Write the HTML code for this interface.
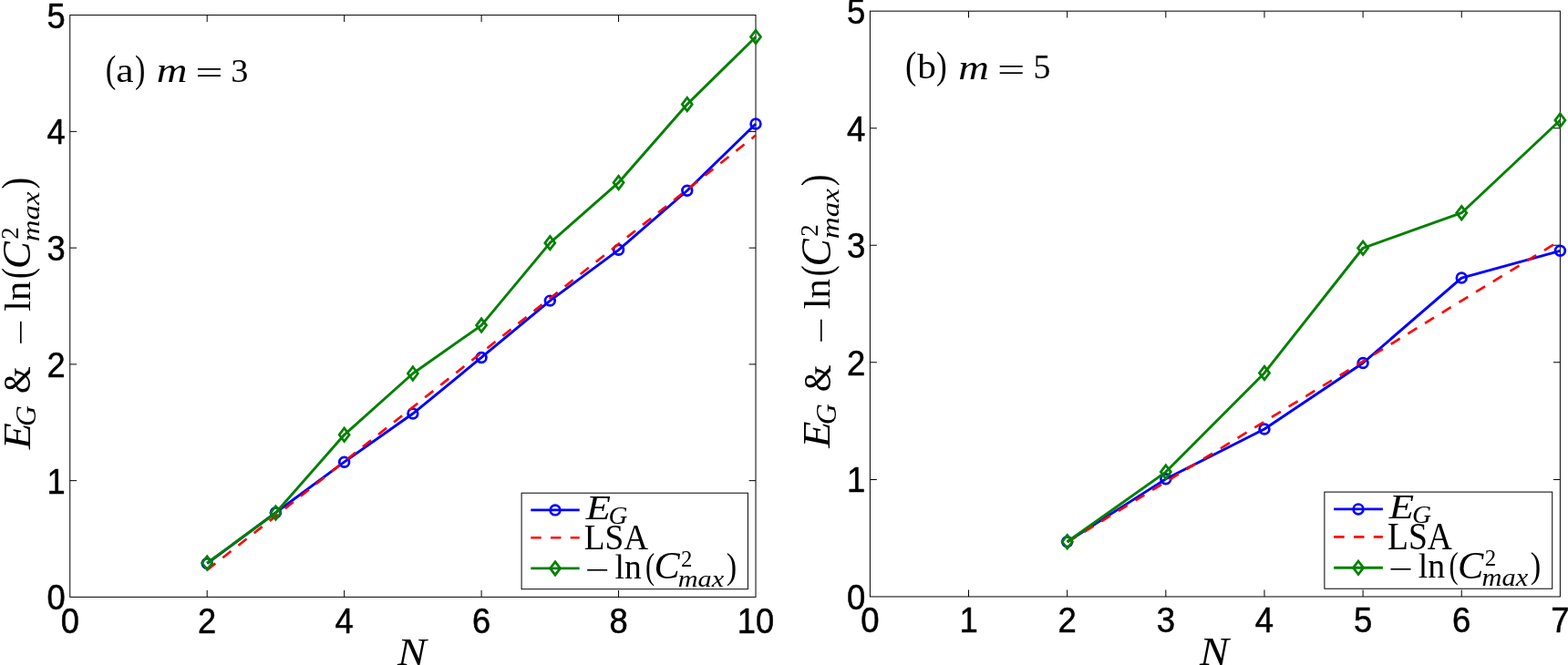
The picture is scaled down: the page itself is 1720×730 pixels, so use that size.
<!DOCTYPE html>
<html lang="en"><head><meta charset="utf-8"><title>E_G and -ln(C^2_max) versus N</title>
<style>html,body{margin:0;padding:0;background:#fff;}body{width:1720px;height:730px;overflow:hidden;}svg{display:block;}</style>
</head><body>
<svg width="1720" height="730" viewBox="0 0 1720 730">
<rect width="1720" height="730" fill="#fff"/>
<g transform="translate(76.75,655.4) scale(1)">
<rect x="0" y="-638.8" width="752.25" height="638.8" fill="none" stroke="#000" stroke-width="1"/>
<path d="M150.45 0V-7.4M150.45 -638.8V-631.4M300.9 0V-7.4M300.9 -638.8V-631.4M451.35 0V-7.4M451.35 -638.8V-631.4M601.8 0V-7.4M601.8 -638.8V-631.4M0 -127.76H7.4M752.25 -127.76H744.85M0 -255.52H7.4M752.25 -255.52H744.85M0 -383.28H7.4M752.25 -383.28H744.85M0 -511.04H7.4M752.25 -511.04H744.85" stroke="#000" stroke-width="1" fill="none"/>
<g font-family="'Liberation Sans', Arial, Helvetica, sans-serif" font-size="37.4" fill="#000" stroke="#000" stroke-width="0.5" stroke-linejoin="round">
<g text-anchor="end">
<text transform="translate(-5.1,13.9) scale(.97,1.02)">0</text>
<text transform="translate(-5.1,-113.86) scale(.97,1.02)">1</text>
<text transform="translate(-5.1,-241.62) scale(.97,1.02)">2</text>
<text transform="translate(-5.1,-369.38) scale(.97,1.02)">3</text>
<text transform="translate(-5.1,-497.14) scale(.97,1.02)">4</text>
<text transform="translate(-5.1,-624.9) scale(.97,1.02)">5</text>
</g><g text-anchor="middle">
<text transform="translate(0,39.2) scale(.97,1.02)">0</text>
<text transform="translate(150.45,39.2) scale(.97,1.02)">2</text>
<text transform="translate(300.9,39.2) scale(.97,1.02)">4</text>
<text transform="translate(451.35,39.2) scale(.97,1.02)">6</text>
<text transform="translate(601.8,39.2) scale(.97,1.02)">8</text>
<text transform="translate(752.25,39.2) scale(.97,1.02)">10</text>
</g></g>
<g fill="none" stroke-width="2.9" stroke-linejoin="round">
<g stroke="#0000ff"><polyline points="150.45,-36.79 225.67,-92.63 300.9,-148.2 376.12,-201.35 451.35,-262.93 526.57,-325.28 601.8,-381.11 677.02,-446.14 752.25,-519.47"/>
<circle cx="150.45" cy="-36.79" r="5.35" stroke-width="2.7"/>
<circle cx="225.67" cy="-92.63" r="5.35" stroke-width="2.7"/>
<circle cx="300.9" cy="-148.2" r="5.35" stroke-width="2.7"/>
<circle cx="376.12" cy="-201.35" r="5.35" stroke-width="2.7"/>
<circle cx="451.35" cy="-262.93" r="5.35" stroke-width="2.7"/>
<circle cx="526.57" cy="-325.28" r="5.35" stroke-width="2.7"/>
<circle cx="601.8" cy="-381.11" r="5.35" stroke-width="2.7"/>
<circle cx="677.02" cy="-446.14" r="5.35" stroke-width="2.7"/>
<circle cx="752.25" cy="-519.47" r="5.35" stroke-width="2.7"/>
</g>
<polyline points="150.45,-29.77 225.67,-88.79 300.9,-148.84 376.12,-208.5 451.35,-268.17 526.57,-327.96 601.8,-387.62 677.02,-447.16 752.25,-506.82" stroke="#ff0000" stroke-width="2.6" stroke-dasharray="11.6 10.175"/>
<g stroke="#008000" stroke-linejoin="miter"><polyline points="150.45,-37.43 225.67,-92.37 300.9,-178.1 376.12,-245.43 451.35,-298.32 526.57,-388.77 601.8,-454.95 677.02,-540.94 752.25,-614.91" stroke-linejoin="round"/>
<path transform="translate(150.45,-37.43)" d="M0 -7.25L5.5 0L0 7.25L-5.5 0Z" stroke-width="2.7"/>
<path transform="translate(225.67,-92.37)" d="M0 -7.25L5.5 0L0 7.25L-5.5 0Z" stroke-width="2.7"/>
<path transform="translate(300.9,-178.1)" d="M0 -7.25L5.5 0L0 7.25L-5.5 0Z" stroke-width="2.7"/>
<path transform="translate(376.12,-245.43)" d="M0 -7.25L5.5 0L0 7.25L-5.5 0Z" stroke-width="2.7"/>
<path transform="translate(451.35,-298.32)" d="M0 -7.25L5.5 0L0 7.25L-5.5 0Z" stroke-width="2.7"/>
<path transform="translate(526.57,-388.77)" d="M0 -7.25L5.5 0L0 7.25L-5.5 0Z" stroke-width="2.7"/>
<path transform="translate(601.8,-454.95)" d="M0 -7.25L5.5 0L0 7.25L-5.5 0Z" stroke-width="2.7"/>
<path transform="translate(677.02,-540.94)" d="M0 -7.25L5.5 0L0 7.25L-5.5 0Z" stroke-width="2.7"/>
<path transform="translate(752.25,-614.91)" d="M0 -7.25L5.5 0L0 7.25L-5.5 0Z" stroke-width="2.7"/>
</g></g>
<rect x="495.35" y="-114.2" width="248.3" height="105.5" fill="#fff" stroke="#000" stroke-width="1"/>
<g fill="none" stroke-width="2.9">
<g stroke="#0000ff"><path d="M505.55 -95.5H558.95"/><circle cx="532.25" cy="-95.5" r="5.35" stroke-width="2.7"/></g>
<path d="M505.55 -65.2H558.95" stroke="#ff0000" stroke-width="2.6" stroke-dasharray="11.4 10.3"/>
<g stroke="#008000"><path d="M505.55 -31.5H558.95"/><path transform="translate(532.25,-31.5)" d="M0 -7.25L5.5 0L0 7.25L-5.5 0Z" stroke-width="2.7"/></g>
</g>
<g font-family="'Liberation Serif', 'Times New Roman', serif" fill="#000">
<g><text transform="translate(565.89,-85.7) scale(1.17,1)" font-size="38.02" font-style="italic">E</text><text transform="translate(590.76,-80.37) scale(1.079,1)" font-size="26.87" font-style="italic">G</text></g>
<g><text transform="translate(564.03,-52.01) scale(0.911,1)" font-size="40.9">LSA</text></g>
<g><text transform="translate(564.68,-18.73) scale(1.392,1)" font-size="34">−</text> <text transform="translate(597.7,-20.9) scale(1.013,1)" font-size="37.1">ln</text><text transform="translate(631.17,-20.54) scale(0.752,1)" font-size="40.67">(</text><text transform="translate(640.63,-20.21) scale(1.018,1)" font-size="41.49" font-style="italic">C</text><text transform="translate(670.14,-33.9) scale(0.972,1)" font-size="25.45">2</text><text transform="translate(666.99,-11.66) scale(1.153,1)" font-size="26.25" font-style="italic">max</text><text transform="translate(719.92,-20.54) scale(0.842,1)" font-size="40.67">)</text></g>
<g><text transform="translate(38.88,-565.16) scale(0.847,1)" font-size="41.22">(</text><text transform="translate(50.53,-565.28) scale(1.149,1)" font-size="37.89">a</text><text transform="translate(71.22,-565.16) scale(0.83,1)" font-size="41.22">)</text> <text transform="translate(95.02,-564.91) scale(1.247,1)" font-size="37.42" font-style="italic">m</text> <text transform="translate(137.46,-562.94) scale(1.477,1)" font-size="36.4">=</text> <text transform="translate(176.54,-565.16) scale(1.051,1)" font-size="36.42">3</text></g>
<g><text transform="translate(359.29,74.8) scale(1.104,1)" font-size="43.08" font-style="italic">N</text></g>
<g transform="rotate(-90)"><text transform="translate(162.27,-43.85) scale(1.134,1)" font-size="41.83" font-style="italic">E</text><text transform="translate(187.45,-37.37) scale(1.004,1)" font-size="31.64" font-style="italic">G</text> <text transform="translate(223.28,-43.58) scale(0.892,1)" font-size="42.67">&amp;</text> <text transform="translate(275.62,-42.48) scale(1.518,1)" font-size="34">−</text> <text transform="translate(313.65,-43.85) scale(1.06,1)" font-size="40.14">ln</text><text transform="translate(349.49,-43.24) scale(0.781,1)" font-size="45.67">(</text><text transform="translate(360.22,-43.5) scale(0.992,1)" font-size="45.37" font-style="italic">C</text><text transform="translate(392.7,-57.05) scale(0.997,1)" font-size="26.82">2</text><text transform="translate(390.25,-33.91) scale(1.244,1)" font-size="26.46" font-style="italic">max</text><text transform="translate(447.87,-43.24) scale(0.825,1)" font-size="45.67">)</text></g>
</g>
</g>
<g transform="translate(954.4,655.0) scale(1.0063)">
<rect x="0" y="-638.8" width="752.25" height="638.8" fill="none" stroke="#000" stroke-width="1"/>
<path d="M107.46 0V-7.4M107.46 -638.8V-631.4M214.93 0V-7.4M214.93 -638.8V-631.4M322.39 0V-7.4M322.39 -638.8V-631.4M429.86 0V-7.4M429.86 -638.8V-631.4M537.32 0V-7.4M537.32 -638.8V-631.4M644.79 0V-7.4M644.79 -638.8V-631.4M0 -127.76H7.4M752.25 -127.76H744.85M0 -255.52H7.4M752.25 -255.52H744.85M0 -383.28H7.4M752.25 -383.28H744.85M0 -511.04H7.4M752.25 -511.04H744.85" stroke="#000" stroke-width="1" fill="none"/>
<g font-family="'Liberation Sans', Arial, Helvetica, sans-serif" font-size="37.4" fill="#000" stroke="#000" stroke-width="0.5" stroke-linejoin="round">
<g text-anchor="end">
<text transform="translate(-5.1,13.9) scale(.97,1.02)">0</text>
<text transform="translate(-5.1,-113.86) scale(.97,1.02)">1</text>
<text transform="translate(-5.1,-241.62) scale(.97,1.02)">2</text>
<text transform="translate(-5.1,-369.38) scale(.97,1.02)">3</text>
<text transform="translate(-5.1,-497.14) scale(.97,1.02)">4</text>
<text transform="translate(-5.1,-624.9) scale(.97,1.02)">5</text>
</g><g text-anchor="middle">
<text transform="translate(0,39.2) scale(.97,1.02)">0</text>
<text transform="translate(107.46,39.2) scale(.97,1.02)">1</text>
<text transform="translate(214.93,39.2) scale(.97,1.02)">2</text>
<text transform="translate(322.39,39.2) scale(.97,1.02)">3</text>
<text transform="translate(429.86,39.2) scale(.97,1.02)">4</text>
<text transform="translate(537.32,39.2) scale(.97,1.02)">5</text>
<text transform="translate(644.79,39.2) scale(.97,1.02)">6</text>
<text transform="translate(752.25,39.2) scale(.97,1.02)">7</text>
</g></g>
<g fill="none" stroke-width="2.9" stroke-linejoin="round">
<g stroke="#0000ff"><polyline points="214.93,-59.92 322.39,-128.4 429.86,-182.82 537.32,-254.88 644.79,-347.76 752.25,-377.28"/>
<circle cx="214.93" cy="-59.92" r="5.35" stroke-width="2.7"/>
<circle cx="322.39" cy="-128.4" r="5.35" stroke-width="2.7"/>
<circle cx="429.86" cy="-182.82" r="5.35" stroke-width="2.7"/>
<circle cx="537.32" cy="-254.88" r="5.35" stroke-width="2.7"/>
<circle cx="644.79" cy="-347.76" r="5.35" stroke-width="2.7"/>
<circle cx="752.25" cy="-377.28" r="5.35" stroke-width="2.7"/>
</g>
<polyline points="214.93,-59.41 322.39,-125.2 429.86,-191 537.32,-256.8 644.79,-322.85 752.25,-388.39" stroke="#ff0000" stroke-width="2.6" stroke-dasharray="11.6 10.175"/>
<g stroke="#008000" stroke-linejoin="miter"><polyline points="214.93,-59.92 322.39,-136.06 429.86,-244.02 537.32,-380.34 644.79,-418.67 752.25,-519.73" stroke-linejoin="round"/>
<path transform="translate(214.93,-59.92)" d="M0 -7.25L5.5 0L0 7.25L-5.5 0Z" stroke-width="2.7"/>
<path transform="translate(322.39,-136.06)" d="M0 -7.25L5.5 0L0 7.25L-5.5 0Z" stroke-width="2.7"/>
<path transform="translate(429.86,-244.02)" d="M0 -7.25L5.5 0L0 7.25L-5.5 0Z" stroke-width="2.7"/>
<path transform="translate(537.32,-380.34)" d="M0 -7.25L5.5 0L0 7.25L-5.5 0Z" stroke-width="2.7"/>
<path transform="translate(644.79,-418.67)" d="M0 -7.25L5.5 0L0 7.25L-5.5 0Z" stroke-width="2.7"/>
<path transform="translate(752.25,-519.73)" d="M0 -7.25L5.5 0L0 7.25L-5.5 0Z" stroke-width="2.7"/>
</g></g>
<rect x="495.35" y="-114.2" width="248.3" height="105.5" fill="#fff" stroke="#000" stroke-width="1"/>
<g fill="none" stroke-width="2.9">
<g stroke="#0000ff"><path d="M505.55 -95.5H558.95"/><circle cx="532.25" cy="-95.5" r="5.35" stroke-width="2.7"/></g>
<path d="M505.55 -65.2H558.95" stroke="#ff0000" stroke-width="2.6" stroke-dasharray="11.4 10.3"/>
<g stroke="#008000"><path d="M505.55 -31.5H558.95"/><path transform="translate(532.25,-31.5)" d="M0 -7.25L5.5 0L0 7.25L-5.5 0Z" stroke-width="2.7"/></g>
</g>
<g font-family="'Liberation Serif', 'Times New Roman', serif" fill="#000">
<g><text transform="translate(565.89,-85.7) scale(1.17,1)" font-size="38.02" font-style="italic">E</text><text transform="translate(590.76,-80.37) scale(1.079,1)" font-size="26.87" font-style="italic">G</text></g>
<g><text transform="translate(564.03,-52.01) scale(0.911,1)" font-size="40.9">LSA</text></g>
<g><text transform="translate(564.68,-18.73) scale(1.392,1)" font-size="34">−</text> <text transform="translate(597.7,-20.9) scale(1.013,1)" font-size="37.1">ln</text><text transform="translate(631.17,-20.54) scale(0.752,1)" font-size="40.67">(</text><text transform="translate(640.63,-20.21) scale(1.018,1)" font-size="41.49" font-style="italic">C</text><text transform="translate(670.14,-33.9) scale(0.972,1)" font-size="25.45">2</text><text transform="translate(666.99,-11.66) scale(1.153,1)" font-size="26.25" font-style="italic">max</text><text transform="translate(719.92,-20.54) scale(0.842,1)" font-size="40.67">)</text></g>
<g><text transform="translate(38.41,-564.99) scale(0.892,1)" font-size="40.89">(</text><text transform="translate(51.45,-565.37) scale(1.102,1)" font-size="37.29">b</text><text transform="translate(72.1,-564.99) scale(0.856,1)" font-size="40.89">)</text> <text transform="translate(96.33,-564.82) scale(1.253,1)" font-size="36.99" font-style="italic">m</text> <text transform="translate(138.77,-562.94) scale(1.471,1)" font-size="36.4">=</text> <text transform="translate(177.9,-565.08) scale(0.982,1)" font-size="38.2">5</text></g>
<g><text transform="translate(359.29,74.8) scale(1.104,1)" font-size="43.08" font-style="italic">N</text></g>
<g transform="rotate(-90)"><text transform="translate(162.27,-43.85) scale(1.134,1)" font-size="41.83" font-style="italic">E</text><text transform="translate(187.45,-37.37) scale(1.004,1)" font-size="31.64" font-style="italic">G</text> <text transform="translate(223.28,-43.58) scale(0.892,1)" font-size="42.67">&amp;</text> <text transform="translate(275.62,-42.48) scale(1.518,1)" font-size="34">−</text> <text transform="translate(313.65,-43.85) scale(1.06,1)" font-size="40.14">ln</text><text transform="translate(349.49,-43.24) scale(0.781,1)" font-size="45.67">(</text><text transform="translate(360.22,-43.5) scale(0.992,1)" font-size="45.37" font-style="italic">C</text><text transform="translate(392.7,-57.05) scale(0.997,1)" font-size="26.82">2</text><text transform="translate(390.25,-33.91) scale(1.244,1)" font-size="26.46" font-style="italic">max</text><text transform="translate(447.87,-43.24) scale(0.825,1)" font-size="45.67">)</text></g>
</g>
</g>
</svg>
</body></html>
